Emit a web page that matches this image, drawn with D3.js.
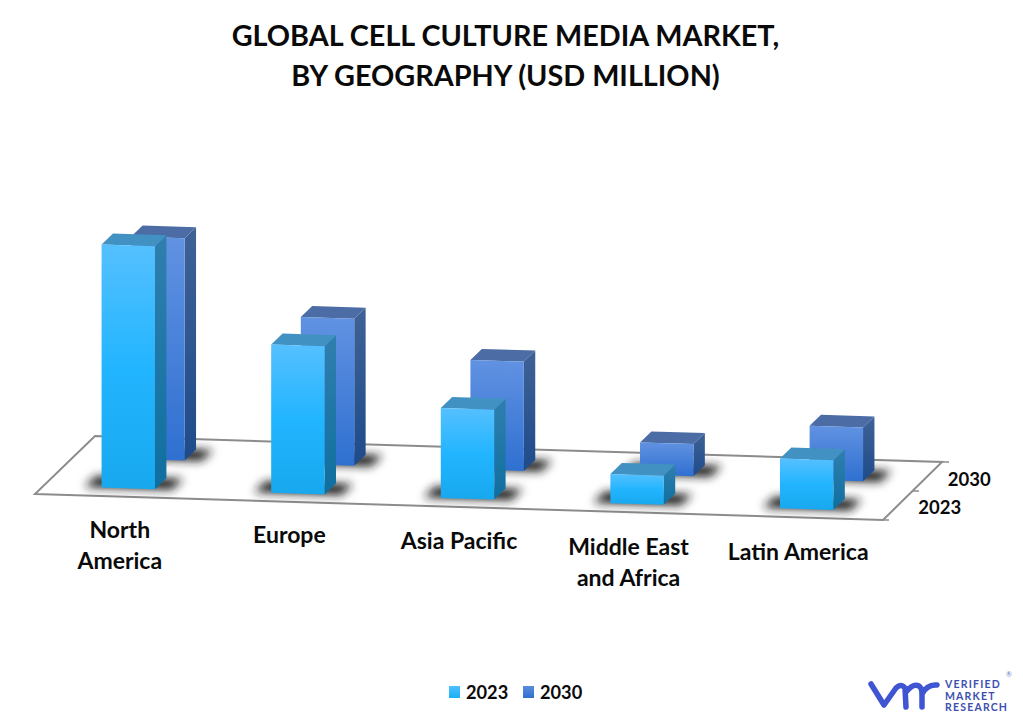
<!DOCTYPE html>
<html>
<head>
<meta charset="utf-8">
<script src="https://cdn.jsdelivr.net/npm/d3@7"></script>
<style>
  html, body { margin: 0; padding: 0; background: #fff; }
  svg { display: block; }
  text { font-family: Lato, "Open Sans", sans-serif; font-weight: 700; fill: #0a0a0a; }
</style>
</head>
<body>
<svg id="chart"></svg>
<script>
const width = 1023;
const height = 724;

const titleLines = ['GLOBAL CELL CULTURE MEDIA MARKET,', 'BY GEOGRAPHY (USD MILLION)'];
const regions = ['North America', 'Europe', 'Asia Pacific', 'Middle East and Africa', 'Latin America'];
const regionLines = [['North', 'America'], ['Europe'], ['Asia Pacific'], ['Middle East', 'and Africa'], ['Latin America']];
const years = ['2030', '2023'];
// no value axis in the picture, so values are relative (tallest bar = 100)
const values2023 = [100, 61, 37, 12, 20.5];
const values2030 = [91.5, 60.5, 45, 13.2, 22.2];

const svg = d3.select('#chart').attr('width', width).attr('height', height);
const defs = svg.append('defs');

// floor corners in page pixels
const frontLeft = [35, 494];
const frontRight = [883, 520];
const backLeft = [95, 436];
const backRight = [942, 462];

const uScale = d3.scaleBand().domain(regions).range([0, 1]).paddingInner(0.685).paddingOuter(0.3425);
const wScale = d3.scaleBand().domain(['2023', '2030']).range([0, 1]).paddingInner(0.615).paddingOuter(0.32).align(0.448);
const hScale = d3.scaleLinear().domain([0, 100]).range([0, 243]);

// u along the categories, w into the depth, h up from the floor
function project(u, w, h = 0) {
    const x = frontLeft[0] + u * (frontRight[0] - frontLeft[0]) + w * (backLeft[0] - frontLeft[0]);
    const y = frontLeft[1] + u * (frontRight[1] - frontLeft[1]) + w * (backLeft[1] - frontLeft[1]);
    return [x, y - h];
}

const poly = d3.line().curve(d3.curveLinearClosed);

function addGradient(id, stops) {
    const g = defs.append('linearGradient').attr('id', id)
        .attr('x1', 0).attr('y1', 0).attr('x2', 0).attr('y2', 1);
    stops.forEach(s => g.append('stop').attr('offset', s[0]).attr('stop-color', s[1]));
}

addGradient('front2023', [[0, '#55c0ff'], [0.5, '#22b5ff'], [1, '#17a8ee']]);
addGradient('side2023', [[0, '#2f7fae'], [1, '#0f6f9f']]);
addGradient('front2030', [[0, '#6192e2'], [1, '#2f70d0']]);
addGradient('side2030', [[0, '#3f6296'], [1, '#1e4b8a']]);
addGradient('legend2023', [[0, '#4fc0ff'], [1, '#1ab0f5']]);
addGradient('legend2030', [[0, '#5a8cdc'], [1, '#3070d0']]);

const topColor = { '2023': '#4192c2', '2030': '#4b6ca4' };

defs.append('filter').attr('id', 'shadowBlur')
    .attr('x', '-40%').attr('y', '-120%').attr('width', '180%').attr('height', '340%')
    .append('feGaussianBlur').attr('stdDeviation', 5);

// floor
svg.append('path')
    .attr('d', poly([frontLeft, frontRight, backRight, backLeft]))
    .attr('fill', '#fff')
    .attr('stroke', '#8c8c8c')
    .attr('stroke-width', 2);

// little ticks on the right edge of the floor
[0, 0.5, 1].forEach(w => {
    const p = project(1, w);
    svg.append('line')
        .attr('x1', p[0]).attr('y1', p[1])
        .attr('x2', p[0] + 6).attr('y2', p[1])
        .attr('stroke', '#8c8c8c')
        .attr('stroke-width', 1.5);
});

const series = { '2023': values2023, '2030': values2030 };

// shadows first so every bar sits on top of them
years.forEach(year => {
    const w0 = wScale(year);
    const w1 = w0 + wScale.bandwidth();
    regions.forEach(region => {
        const u0 = uScale(region) - 0.02;
        const u1 = uScale(region) + uScale.bandwidth() + 0.02;
        svg.append('path')
            .attr('d', poly([project(u0, w0), project(u1, w0), project(u1, w1), project(u0, w1)]))
            .attr('fill', '#1c1c1c')
            .attr('filter', 'url(#shadowBlur)');
    });
});

years.forEach(year => {
    const w0 = wScale(year);
    const w1 = w0 + wScale.bandwidth();
    regions.forEach((region, i) => {
        const u0 = uScale(region);
        const u1 = u0 + uScale.bandwidth();
        const h = hScale(series[year][i]);
        const bar = svg.append('g').attr('class', 'bar');

        bar.append('path')
            .attr('d', poly([project(u1, w0), project(u1, w1), project(u1, w1, h), project(u1, w0, h)]))
            .attr('fill', `url(#side${year})`);
        bar.append('path')
            .attr('d', poly([project(u0, w0, h), project(u1, w0, h), project(u1, w1, h), project(u0, w1, h)]))
            .attr('fill', topColor[year]);
        bar.append('path')
            .attr('d', poly([project(u0, w0), project(u1, w0), project(u1, w0, h), project(u0, w0, h)]))
            .attr('fill', `url(#front${year})`);
    });
});

// category labels
regions.forEach((region, i) => {
    const p = project(uScale(region) + uScale.bandwidth() / 2, 0);
    const label = svg.append('text')
        .attr('text-anchor', 'middle')
        .attr('font-size', 23);
    regionLines[i].forEach((line, j) => {
        label.append('tspan')
            .attr('x', p[0])
            .attr('y', p[1] + 41 + i * 0.5 + j * 31)
            .text(line);
    });
});

// depth labels
['2023', '2030'].forEach(year => {
    const p = project(1, wScale(year) + wScale.bandwidth() / 2);
    svg.append('text')
        .attr('x', p[0] + 21)
        .attr('y', p[1] + 8)
        .attr('font-size', 18.5)
        .text(year);
});

// title
titleLines.forEach((line, i) => {
    svg.append('text')
        .attr('x', 505.5)
        .attr('y', 45.5 + i * 40)
        .attr('text-anchor', 'middle')
        .attr('font-size', 28.8)
        .text(line);
});

// legend
const legendX = d3.scalePoint().domain(['2023', '2030']).range([449, 523]);
['2023', '2030'].forEach(year => {
    svg.append('rect')
        .attr('x', legendX(year)).attr('y', 686)
        .attr('width', 11).attr('height', 12)
        .attr('fill', `url(#legend${year})`);
    svg.append('text')
        .attr('x', legendX(year) + 17)
        .attr('y', 699)
        .attr('font-size', 18.2)
        .text(year);
});

// logo
const logo = svg.append('g');
logo.append('path')
    .attr('d', 'M871,684 L884,705 L896,688 Q901,683 905,688 L906,707 M906,692 Q913,683 919,686 Q922,688 922,694 L922,707 M922,694 Q927,684 937,685')
    .attr('fill', 'none')
    .attr('stroke', '#3f55d2')
    .attr('stroke-width', 5.5)
    .attr('stroke-linecap', 'round')
    .attr('stroke-linejoin', 'round');
['VERIFIED', 'MARKET', 'RESEARCH'].forEach((line, i) => {
    logo.append('text')
        .attr('x', 945)
        .attr('y', 688 + i * 11.5)
        .attr('font-size', 10.5)
        .attr('letter-spacing', 1.2)
        .style('fill', '#3d4fb0')
        .text(line);
});
logo.append('text')
    .attr('x', 1006).attr('y', 677)
    .attr('font-size', 7)
    .style('fill', '#6a78c8')
    .style('font-weight', 400)
    .text('®');
</script>
</body>
</html>
